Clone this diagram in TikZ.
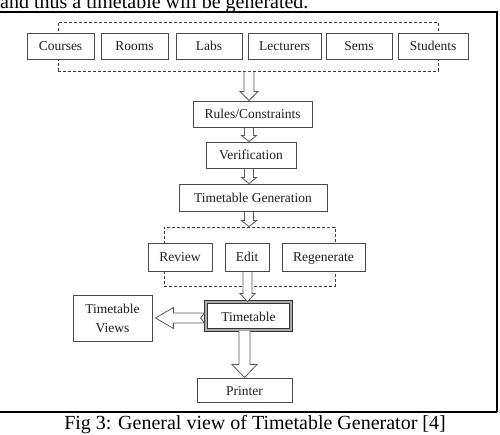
\documentclass[tikz,border=0pt]{standalone}
\usepackage{fontspec}
\setmainfont{Liberation Serif}
\usetikzlibrary{calc}
\definecolor{boxgray}{HTML}{4A4A4A}
\definecolor{dashgray}{HTML}{3A3A3A}
\definecolor{arrgray}{HTML}{5A5A5A}
\definecolor{txtgray}{HTML}{1E1E1E}
\tikzset{
  box/.style={draw=boxgray, fill=white, line width=0.9pt, inner sep=0pt,
    text=txtgray, font=\fontsize{13.5}{19}\selectfont, align=center,
    text height=10pt, text depth=0pt},
  twoline/.style={text height={}, text depth={}},
  dashbox/.style={draw=dashgray, line width=0.8pt, dash pattern=on 3pt off 2pt, inner sep=0pt},
  blockarrow/.style={draw=arrgray, fill=white, line width=0.8pt, line join=miter},
  frameline/.style={draw=black, line width=1.5pt}
}
\newcommand\Bx[7][]{\node[box, #1, minimum width={#5-#3}, minimum height={#6-#4}] (#2) at ({(#3+#5)/2},{(#4+#6)/2}) {#7};}
\newcommand\Dbx[5]{\node[dashbox, minimum width={#4-#2}, minimum height={#5-#3}] (#1) at ({(#2+#4)/2},{(#3+#5)/2}) {};}
% from, to, xshift, shaft half, head half, head length
\newcommand\BlockDown[6]{%
  \draw[blockarrow] let \p1=($(#1.south)+(#3,0)$), \p2=(#2.north) in
    (\x1-#4,\y1-0.6pt) -- (\x1-#4,\y2+#6) -- (\x1-#5,\y2+#6) -- (\x1,\y2) --
    (\x1+#5,\y2+#6) -- (\x1+#4,\y2+#6) -- (\x1+#4,\y1-0.6pt);}
\begin{document}
\begin{tikzpicture}[x=1pt,y=-1pt]
\useasboundingbox (0,0) rectangle (500,435);
% surrounding text and frame
\node[anchor=base west, inner sep=0pt, font=\fontsize{20}{24}\selectfont] (toptext) at (0,8.5) {and thus a timetable will be generated.};
\draw[frameline] (0,12) -- (497,12) -- (497,412);
\draw[draw=black, line width=2pt] (497,412) -- (0,412);
\node[anchor=base, inner sep=0pt, font=\fontsize{20}{24}\selectfont] (caption) at (255,429) {Fig 3: General view of Timetable Generator [4]};
% dashed groups
\Dbx{inputs}{58}{22}{438}{71}
\Dbx{actions}{164}{227}{335}{286}
% input boxes
\Bx{courses}{27}{33}{94}{59}{Courses}
\Bx{rooms}{101}{33}{168}{59}{Rooms}
\Bx{labs}{176}{33}{242}{59}{Labs}
\Bx{lecturers}{248}{33}{321}{59}{Lecturers}
\Bx{sems}{326}{33}{392}{59}{Sems}
\Bx{students}{398}{33}{468}{59}{Students}
% pipeline
\Bx{rules}{193}{101}{312}{127}{Rules/Constraints}
\Bx{verif}{206}{142}{296}{168}{Verification}
\Bx{gen}{179}{184}{327}{211}{Timetable Generation}
\Bx{review}{148}{243}{212}{271}{Review}
\Bx{edit}{225}{243}{269}{271}{Edit}
\Bx{regen}{282}{243}{365}{271}{Regenerate}
\Bx[twoline]{views}{73}{295}{152}{341}{Timetable\\Views}
\Bx{printer}{197}{378}{292}{402}{Printer}
\node[draw=black!80, double=gray!65, double distance=2.4pt, line width=0.8pt, fill=white,
  inner sep=0pt, minimum width=85, minimum height=28, text=txtgray,
  text height=10pt, text depth=0pt,
  font=\fontsize{13.5}{19}\selectfont] (tt) at (248.5,316) {Timetable};
% block arrows
\BlockDown{inputs}{rules}{1pt}{5pt}{9pt}{9pt}
\BlockDown{rules}{verif}{-3.5pt}{4.5pt}{7.5pt}{6pt}
\BlockDown{verif}{gen}{-2pt}{4.5pt}{7.5pt}{6pt}
\BlockDown{gen}{actions}{-4pt}{4.5pt}{7.5pt}{6pt}
\BlockDown{edit}{tt}{0.5pt}{4.5pt}{7.5pt}{8pt}
\BlockDown{tt}{printer}{-4pt}{5.5pt}{12.5pt}{13pt}
\draw[blockarrow] let \p1=(tt.west), \p2=(views.east) in
  (\x1-1pt,\y2+5pt) -- (\x2+21pt,\y2+5pt) -- (\x2+21pt,\y2+10.5pt) -- (\x2+3pt,\y2) --
  (\x2+21pt,\y2-10.5pt) -- (\x2+21pt,\y2-5pt) -- (\x1-1pt,\y2-5pt) -- (\x1-5pt,\y2) -- cycle;
\end{tikzpicture}
\end{document}
